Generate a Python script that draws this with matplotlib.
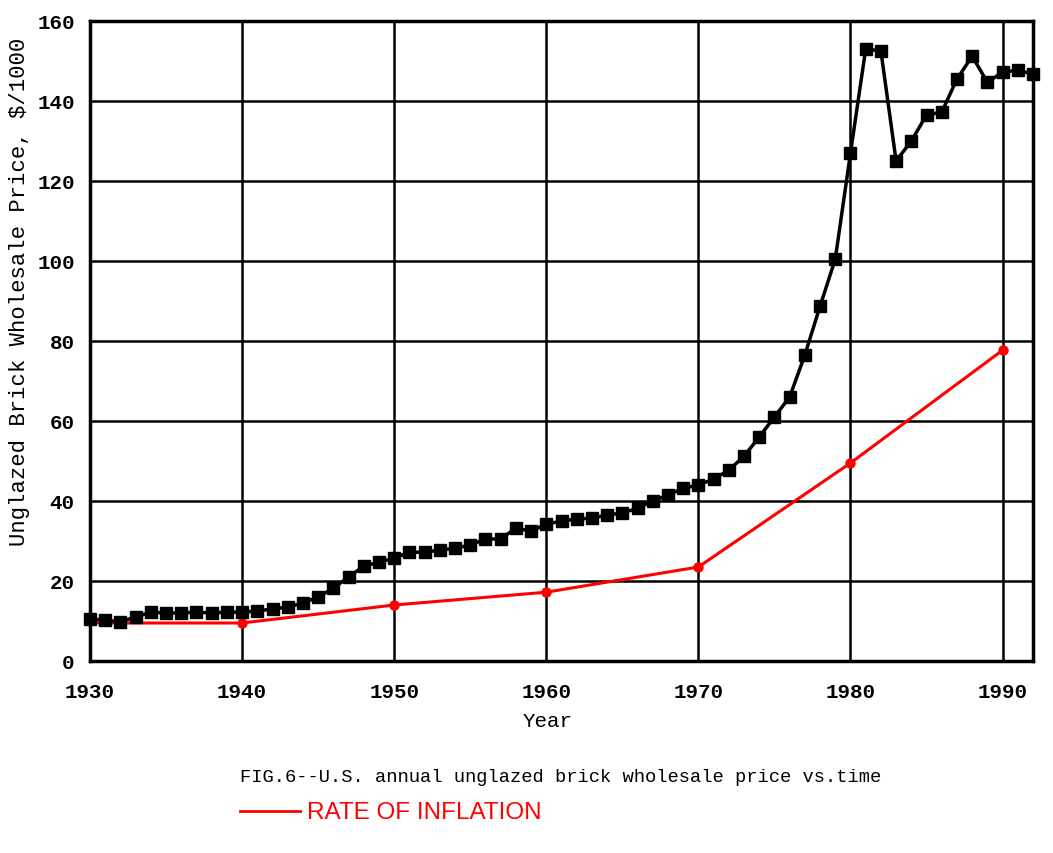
import matplotlib
matplotlib.use("Agg")
import matplotlib.pyplot as plt
from matplotlib.lines import Line2D

# Данные: годы и цена кирпича ($/1000)
years = list(range(1930, 1993))
price = [10.5, 10.2, 9.8, 11.0, 12.2, 12.0, 12.0, 12.2, 12.0, 12.2,
         12.2, 12.5, 13.0, 13.5, 14.5, 16.0, 18.2, 21.0, 23.7, 24.7,
         25.7, 27.2, 27.2, 27.7, 28.2, 29.0, 30.5, 30.5, 33.2, 32.5,
         34.2, 35.0, 35.5, 35.7, 36.5, 37.0, 38.2, 40.0, 41.5, 43.2,
         44.0, 45.5, 47.7, 51.2, 56.0, 61.0, 66.0, 76.5, 88.7, 100.5,
         127.0, 153.0, 152.5, 125.0, 130.0, 136.5, 137.2, 145.5, 151.2, 144.7,
         147.2, 147.7, 146.7]

# Уровень инфляции
infl_years = [1930, 1940, 1950, 1960, 1970, 1980, 1990]
inflation = [9.5, 9.5, 14.0, 17.2, 23.5, 49.5, 77.7]

x_ticks = [1930, 1940, 1950, 1960, 1970, 1980, 1990]
y_ticks = [0, 20, 40, 60, 80, 100, 120, 140, 160]

mono = "Liberation Mono"

fig = plt.figure(figsize=(10.53, 8.54), dpi=100)
ax = fig.add_axes([90 / 1053, 1 - 662 / 854, 943 / 1053, 640 / 854])

# Линия инфляции
ax.plot(infl_years, inflation, color="red", linewidth=2.2, zorder=3)
ax.plot(infl_years[1:], inflation[1:], "o", color="red", markersize=6.5, zorder=3)

# Цена кирпича
ax.plot(years, price, color="black", linewidth=2.5, marker="s", markersize=8.5,
        zorder=4, clip_on=False)

ax.set_xlim(1930, 1992)
ax.set_ylim(0, 160)
ax.set_xticks(x_ticks)
ax.set_yticks(y_ticks)
ax.grid(True, color="black", linewidth=1.8)
ax.set_axisbelow(True)
for s in ax.spines.values():
    s.set_linewidth(2.5)
ax.tick_params(length=0, labelsize=15)
ax.tick_params(axis="y", pad=11)
ax.tick_params(axis="x", pad=15)
for lab in ax.get_xticklabels() + ax.get_yticklabels():
    lab.set_family(mono)
    lab.set_weight("bold")

ax.set_xlabel("Year", fontsize=15, family=mono)
ax.xaxis.set_label_coords((548 - 90) / 943, -50 / 640)
ax.set_ylabel("Unglazed Brick Wholesale Price, $/1000", fontsize=16,
              family=mono)
ax.yaxis.set_label_coords(-60 / 943, (662 - 292) / 640)

# Подпись рисунка
fig.text(240 / 1053, 1 - 778 / 854,
         "FIG.6--U.S. annual unglazed brick wholesale price vs.time",
         fontsize=13.5, family=mono, va="center", ha="left")
fig.add_artist(Line2D([240 / 1053, 300 / 1053], [1 - 812 / 854, 1 - 812 / 854],
                      color="red", linewidth=2))
fig.text(307 / 1053, 1 - 813 / 854, "RATE OF INFLATION", fontsize=17.5,
         family="Liberation Sans", color="red", va="center", ha="left")

fig.savefig("out.png", dpi=100)
